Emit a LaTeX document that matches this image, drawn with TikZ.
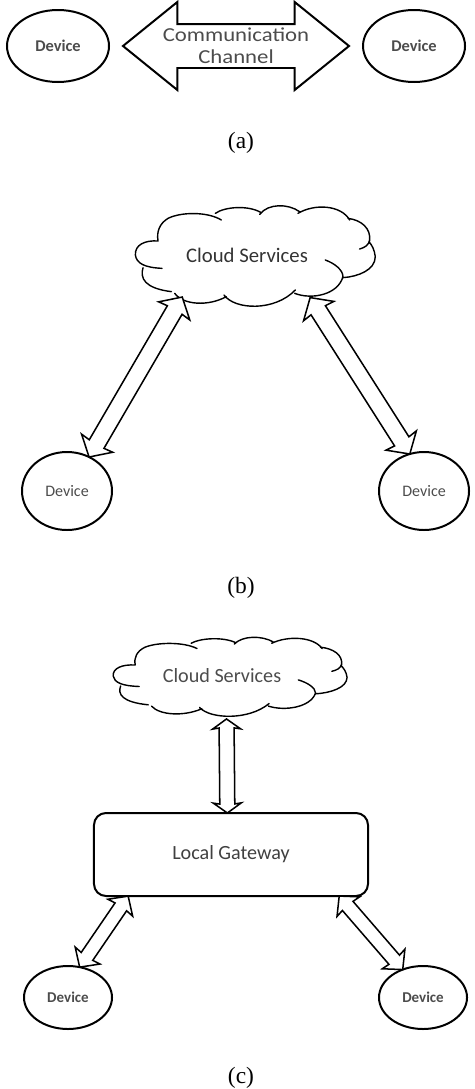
\documentclass[tikz,border=0pt]{standalone}
\usepackage{fontspec}
\setmainfont{Carlito}
\newfontfamily\capfont{Liberation Serif}
\usetikzlibrary{shapes.geometric, shapes.arrows, calc, positioning}

\begin{document}
\begin{tikzpicture}[
			x=0.03cm, y=-0.03cm,
			device/.style={ellipse, draw, line width=1.7pt, inner sep=0pt, outer sep=0pt, text=black!70},
			devicea/.style={device, minimum width=3.06cm, minimum height=2.16cm, font=\fontsize{14}{16}\selectfont\bfseries},
			deviceb/.style={device, minimum width=2.7cm, minimum height=2.34cm, font=\fontsize{13.7}{16}\selectfont},
			devicec/.style={device, minimum width=2.64cm, minimum height=1.89cm, font=\fontsize{12.8}{15}\selectfont\bfseries},
			channel/.style={double arrow, draw, line width=1.7pt, minimum height=6.78cm, minimum width=2.58cm,
				double arrow head extend=0.66cm, double arrow tip angle=78, inner xsep=0pt, inner ysep=0.63cm, outer sep=0pt},
			cloudarea/.style={ellipse, inner sep=0pt, outer sep=0pt},
			gateway/.style={rectangle, draw, line width=1.7pt, rounded corners=0.36cm, inner sep=0pt, outer sep=0pt,
				minimum width=8.22cm, minimum height=2.49cm, text=black!75, font=\fontsize{17.2}{19}\selectfont},
			caption/.style={font=\capfont\fontsize{20}{22}\selectfont, inner sep=0pt},
			twoway/.style n args={3}{draw, fill=white, line width=1.3pt, line join=miter, to path={
				let \p1=($(\tikztotarget)-(\tikztostart)$), \n1={atan2(\y1,\x1)}, \n2={scalar(veclen(\x1,\y1))/0.85358} in
				[shift={(\tikztostart)}, rotate=\n1]
				(0,0) -- (#1,#2) -- ({#1-1},#3) -- ({\n2-#1+1},#3) -- ({\n2-#1},#2) -- (\n2,0)
				-- ({\n2-#1},-#2) -- ({\n2-#1+1},-#3) -- ({#1-1},-#3) -- (#1,-#2) -- cycle}},
			pics/cloudsvc/.style={code={
				\draw[x=0.01cm, y=-0.01cm, line width=1.2pt, line cap=round]
				(-267,-42) .. controls (-307,-45) and (-337,-30) .. (-335,0) .. controls (-332,25) and (-307,38) .. (-255,40)
				(-312,38) .. controls (-322,70) and (-307,100) .. (-227,110)
				(-217,115) .. controls (-192,150) and (-117,155) .. (-62,125)
				(-69,120) .. controls (-37,165) and (83,170) .. (145,105)
				(143,115) .. controls (193,135) and (273,120) .. (288,65) .. controls (288,45) and (263,25) .. (235,15)
				(288,68) .. controls (333,65) and (385,45) .. (385,5) .. controls (383,-15) and (375,-30) .. (366,-40)
				(338,-18) .. controls (353,-22) and (366,-30) .. (368,-45)
				(368,-42) .. controls (373,-80) and (343,-105) .. (303,-110)
				(308,-105) .. controls (283,-150) and (203,-155) .. (153,-125)
				(158,-130) .. controls (123,-155) and (63,-155) .. (38,-122)
				(41,-128) .. controls (3,-150) and (-67,-145) .. (-95,-125)
				(-77,-105) .. controls (-117,-130) and (-197,-130) .. (-237,-110) .. controls (-262,-95) and (-272,-70) .. (-267,-42);
			}},
			]
			\useasboundingbox (0,0) rectangle (474,1089);
			
			% Part (a)
			\node[devicea] (deval) at (58,46) {Device};
			\node[devicea, right=7.62cm of deval] (devar) {Device};
			\node[channel] (chan) at (236,46) {};
			\node[align=center, text=black!70, inner sep=0pt, font=\fontsize{16.9}{19}\selectfont, xscale=1.15, transform shape] (chantxt) at (chan.center) {Communication\\Channel};
			\node[caption] (capa) at (241,143) {(a)};
			
			% Part (b)
			\node[cloudarea, minimum width=6.6cm, minimum height=3.12cm, text=black!80, font=\fontsize{17.7}{20}\selectfont] (cloudb) at (247,255) {Cloud Services};
			\pic at (cloudb.center) {cloudsvc};
			\node[deviceb] (devbl) at (67,491) {Device};
			\node[deviceb, right=8.01cm of devbl] (devbr) {Device};
			\node[caption] (capb) at (241,588) {(b)};
			
			\draw[twoway={16}{18}{8.5}] (devbl.57) to (cloudb.213.3);
			\draw[twoway={16}{18}{8.5}] (devbr.111) to (cloudb.326.3);
			
			% Part (c)
			\node[cloudarea, minimum width=6cm, minimum height=2.58cm, text=black!70, font=\fontsize{17.2}{19}\selectfont] (cloudc) at (222,676) {Cloud Services};
			\pic[xscale=0.975, yscale=0.786] at (cloudc.center) {cloudsvc};
			\node[gateway] (gate) at (231,854.5) {Local Gateway};
			\node[devicec] (devcl) at (68,997.5) {Device};
			\node[devicec, right=8.01cm of devcl] (devcr) {Device};
			\node[caption] (capc) at (241,1078) {(c)};
			
			\draw[twoway={10}{14}{7.5}] (gate.95.5) to (cloudc.276.6);
			\draw[twoway={14}{15}{7}] (devcl.69.7) to (gate.202.7);
			\draw[twoway={14}{15}{7}] (devcr.126.7) to (gate.339.5);
		\end{tikzpicture}
\end{document}
